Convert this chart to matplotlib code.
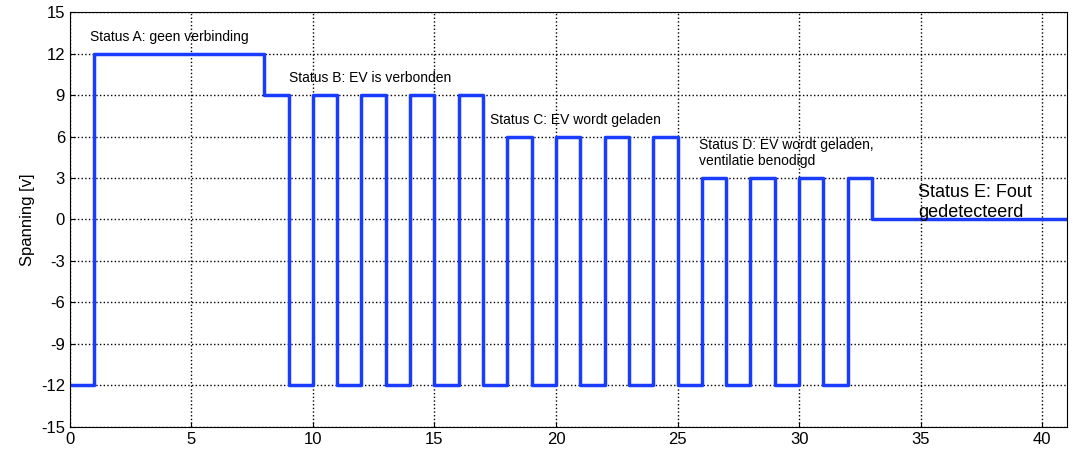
import matplotlib
matplotlib.use("Agg")
import matplotlib.pyplot as plt

plt.rcParams['font.family'] = ['Liberation Sans', 'DejaVu Sans']
plt.rcParams['axes.unicode_minus'] = False

t = [0, 1, 8, 9, 10, 11, 12, 13, 14, 15, 16, 17, 18, 19, 20, 21, 22, 23, 24, 25, 26, 27, 28, 29, 30, 31, 32, 33, 41]
v = [-12, 12, 9, -12, 9, -12, 9, -12, 9, -12, 9, -12, 6, -12, 6, -12, 6, -12, 6, -12, 3, -12, 3, -12, 3, -12, 3, 0, 0]
labels = [(0.82, 12.7, "Status A: geen verbinding", 10),
          (9.0, 9.7, "Status B: EV is verbonden", 10),
          (17.3, 6.7, "Status C: EV wordt geladen", 10),
          (25.9, 3.7, "Status D: EV wordt geladen,\nventilatie benodigd", 10),
          (34.9, -0.1, "Status E: Fout\ngedetecteerd", 13)]

fig = plt.figure(figsize=(10.73, 4.65), dpi=100)
ax = fig.add_axes([0.065, 0.082, 0.929, 0.892])
ax.plot(t, v, drawstyle='steps-post', color='#1a3cff', lw=2.5)
ax.set_xlim(0, 41)
ax.set_ylim(-15, 15)
ax.set_xticks(range(0, 41, 5))
ax.set_yticks(range(-15, 16, 3))
ax.tick_params(labelsize=12, direction='in')
ax.grid(True, color='black', linestyle=':', lw=1)
ax.set_ylabel("Spanning [v]", fontsize=12)
for x, y, s, fs in labels:
    ax.text(x, y, s, fontsize=fs, va='bottom', ha='left')
fig.savefig("out.png", dpi=100)
